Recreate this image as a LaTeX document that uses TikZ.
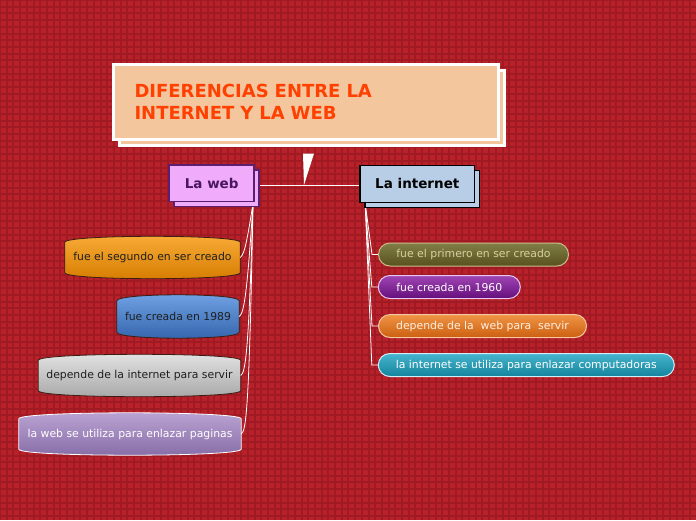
\documentclass[tikz,border=0pt]{standalone}
\usepackage{fontspec}
\setmainfont{DejaVu Sans}
\usetikzlibrary{shadows,calc}
\pgfdeclarelayer{bg}
\pgfdeclarelayer{back}
\pgfsetlayers{bg,back,main}
\definecolor{bgred}{HTML}{B8202A}
\definecolor{gridc}{HTML}{A01A24}
\definecolor{peach}{HTML}{F4C69E}
\definecolor{titlered}{HTML}{FF4000}
\definecolor{pinkf}{HTML}{F0ACFA}
\definecolor{purpled}{HTML}{5C1E6E}
\definecolor{purplet}{HTML}{4A155E}
\definecolor{bluef}{HTML}{B8CDE6}
\definecolor{leafline}{HTML}{3A1E14}
\newcommand\barrelshape[2]{%
  \path[#2] ($(#1.north west)+(0,6)$) .. controls ($(#1.north west)+(0,-2)$) and ($(#1.north east)+(0,-2)$) .. ($(#1.north east)+(0,6)$)
   -- ($(#1.south east)+(0,-6)$) .. controls ($(#1.south east)+(0,2)$) and ($(#1.south west)+(0,2)$) .. ($(#1.south west)+(0,-6)$) -- cycle;}
\begin{document}
\begin{tikzpicture}[x=1pt,y=-1pt,
  titlebox/.style={draw=white, line width=3pt, fill=peach, minimum width=385pt, minimum height=75pt,
     inner xsep=21pt, text width=343pt, align=left, text=titlered,
     font=\fontsize{18}{21.7}\selectfont\bfseries,
     copy shadow={shadow xshift=6pt, shadow yshift=-6pt}},
  mainbox/.style={line width=1.6pt, inner sep=0pt, font=\fontsize{13.5}{16}\selectfont\bfseries,
     copy shadow={shadow xshift=5pt, shadow yshift=-5pt}},
  lleaf/.style={inner sep=0pt, font=\fontsize{10.85}{13}\selectfont, text=black!88},
  rpill/.style={rounded corners=11.5pt, minimum height=23pt, line width=1pt, inner sep=0pt,
     font=\fontsize{10.85}{13}\selectfont},
  conn/.style={draw=white, line width=0.8pt}]
\useasboundingbox (0,0) rectangle (696,520);
\begin{pgfonlayer}{bg}
  \fill[bgred] (0,0) rectangle (696,520);
  \foreach \i in {0,...,104} \draw[gridc, line width=2pt] (\i*6.7,0) -- (\i*6.7,520);
  \foreach \i in {0,...,78} \draw[gridc, line width=2pt] (0,\i*6.7) -- (696,\i*6.7);
\end{pgfonlayer}

% title and main nodes
\node[titlebox] (title) at (306,102) {DIFERENCIAS ENTRE LA\\INTERNET Y LA WEB};
\node[mainbox, draw=purpled, fill=pinkf, text=purplet, minimum width=85pt, minimum height=36.5pt] (web) at (211.7,183.3) {La web};
\node[mainbox, draw=black, fill=bluef, text=black, minimum width=114.7pt, minimum height=37pt] (inet) at (417.3,183.8) {La internet};

% left leaves
\node[lleaf, minimum width=175pt, minimum height=42pt] (l1) at (152.5,257.5) {fue el segundo en ser creado};
\node[lleaf, minimum width=122pt, minimum height=43pt] (l2) at (178,316.5) {fue creada en 1989};
\node[lleaf, minimum width=202pt, minimum height=42pt] (l3) at (139.5,375.5) {depende de la internet para servir};
\node[lleaf, minimum width=222pt, minimum height=42pt, text=white] (l4) at (130,434) {la web se utiliza para enlazar paginas};

% right leaves
\node[rpill, minimum width=190pt, draw={rgb,255:red,200;green,188;blue,138}, top color={rgb,255:red,128;green,126;blue,70}, bottom color={rgb,255:red,88;green,82;blue,30}, text={rgb,255:red,216;green,207;blue,160}] (r1) at (473.5,254.5) {fue el primero en ser creado};
\node[rpill, minimum width=142pt, draw={rgb,255:red,232;green,200;blue,240}, top color={rgb,255:red,160;green,70;blue,180}, bottom color={rgb,255:red,100;green,14;blue,124}, text=white] (r2) at (449.3,287) {fue creada en 1960};
\node[rpill, minimum width=208pt, draw={rgb,255:red,244;green,200;blue,160}, top color={rgb,255:red,240;green,148;blue,70}, bottom color={rgb,255:red,204;green,96;blue,16}, text={rgb,255:red,255;green,240;blue,225}] (r3) at (482.5,326) {depende de la\ \ web para\ \ servir};
\node[rpill, minimum width=296pt, draw={rgb,255:red,208;green,240;blue,248}, top color={rgb,255:red,70;green,180;blue,204}, bottom color={rgb,255:red,20;green,132;blue,158}, text=white] (r4) at (526.3,365) {la internet se utiliza para enlazar computadoras};

\coordinate (hub) at (304,185);
\coordinate (wtrunk) at ($(web.south east)+(-2,1.5)$);
\coordinate (itrunk) at ($(inet.south west)+(6,0)$);

\begin{pgfonlayer}{back}
  \barrelshape{l1}{draw=leafline, line width=0.8pt, top color={rgb,255:red,248;green,172;blue,56}, bottom color={rgb,255:red,214;green,124;blue,0}}
  \barrelshape{l2}{draw=leafline, line width=0.8pt, top color={rgb,255:red,112;green,162;blue,228}, bottom color={rgb,255:red,52;green,100;blue,172}}
  \barrelshape{l3}{draw=leafline, line width=0.8pt, top color={rgb,255:red,228;green,228;blue,228}, bottom color={rgb,255:red,166;green,166;blue,166}}
  \barrelshape{l4}{draw=white, line width=0.8pt, top color={rgb,255:red,188;green,164;blue,212}, bottom color={rgb,255:red,134;green,108;blue,166}}
  % connectors
  \fill[white] ($(title.south)+(-3,12.5)$) -- ($(title.south)+(8,12.5)$) -- (hub) -- cycle;
  \draw[conn] (web.east |- hub) -- (inet.west |- hub);
  \foreach \n in {l1,l2,l3,l4}
    \draw[conn] (wtrunk) .. controls ($(\n.east)+(8,-25)$) and ($(\n.east)+(5,-3)$) .. (\n.east);
  \foreach \n in {r1,r2,r3,r4}
    \draw[conn] (itrunk) -- ($(\n.west)+(-6,0)$) -- (\n.west);
\end{pgfonlayer}
\end{tikzpicture}
\end{document}
